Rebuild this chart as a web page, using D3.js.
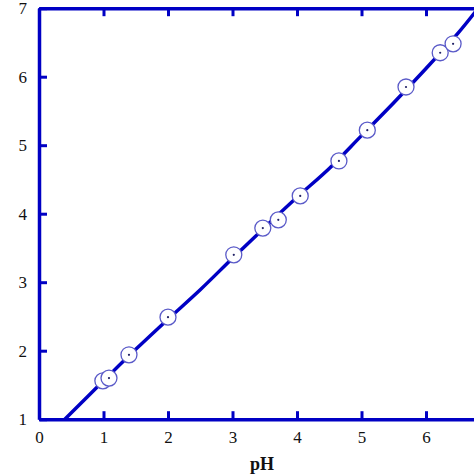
<!DOCTYPE html>
<html>
<head>
<meta charset="utf-8">
<script src="https://cdn.jsdelivr.net/npm/d3@7"></script>
<style>
body { margin: 0; background: #fff; }
svg { display: block; }
text { font-family: "Times New Roman", "Liberation Serif", Times, serif; }
.axis text { font-size: 17px; fill: #111; }
</style>
</head>
<body>
<div id="chart"></div>
<script>
// measured points
var phObs = [0.99, 1.085, 1.395, 2.0, 3.02, 3.47, 3.71, 4.05, 4.65, 5.09, 5.69, 6.22, 6.42];
var yObs  = [1.56, 1.60, 1.94, 2.49, 3.40, 3.79, 3.91, 4.26, 4.77, 5.22, 5.85, 6.35, 6.48];

// fitted curve
var phFit = [0.4, 1.0, 1.5, 2.0, 2.5, 3.0, 3.5, 4.0, 4.5, 5.0, 5.5, 6.0, 6.5, 6.8];
var yFit  = [1.0, 1.56, 2.02, 2.46, 2.89, 3.35, 3.8, 4.24, 4.66, 5.14, 5.62, 6.12, 6.64, 6.99];

var xTicks = [0, 1, 2, 3, 4, 5, 6];
var yTicks = [1, 2, 3, 4, 5, 6, 7];

var blue = "#0000c4";

//Define Margin
var W = 474, H = 474;
var margin = {left: 39, top: 8.2};
var unitX = 64.5, unitY = 68.5;

var svg = d3.select("div#chart")
    .append("svg")
    .attr("width", W)
    .attr("height", H);

//Define Scales
var xScale = d3.scaleLinear()
    .domain([0, 7])
    .range([margin.left, margin.left + 7 * unitX]);

var yScale = d3.scaleLinear()
    .domain([1, 7])
    .range([margin.top + 6 * unitY, margin.top]);

var x0 = xScale(0), y0 = yScale(1), yTop = yScale(7);

//Define Axis
var xAxis = d3.axisBottom(xScale).tickValues(xTicks).tickFormat(d3.format("d"))
    .tickSizeInner(-8).tickSizeOuter(0).tickPadding(12);
var xAxisTop = d3.axisTop(xScale).tickValues(xTicks).tickFormat("")
    .tickSizeInner(-8).tickSizeOuter(0);
var yAxis = d3.axisLeft(yScale).tickValues(yTicks).tickFormat(d3.format("d"))
    .tickSizeInner(-8).tickSizeOuter(0).tickPadding(12);

function styleAxis(g) {
    g.attr("font-family", null);
    g.select(".domain").attr("stroke", blue).attr("stroke-width", 3.5);
    g.selectAll(".tick line").attr("stroke", blue).attr("stroke-width", 3);
}

// fitted line
var line = d3.line()
    .x(function(d, i) { return xScale(phFit[i]); })
    .y(function(d, i) { return yScale(yFit[i]); })
    .curve(d3.curveCatmullRom);

svg.append("path")
    .datum(yFit)
    .attr("d", line)
    .attr("fill", "none")
    .attr("stroke", blue)
    .attr("stroke-width", 3.5);

// axes
svg.append("g").attr("class", "x axis")
    .attr("transform", "translate(0," + y0 + ")")
    .call(xAxis).call(styleAxis);

svg.append("g").attr("class", "x axis top")
    .attr("transform", "translate(0," + yTop + ")")
    .call(xAxisTop).call(styleAxis);

svg.append("g").attr("class", "y axis")
    .attr("transform", "translate(" + x0 + ",0)")
    .call(yAxis).call(styleAxis);

svg.selectAll(".tick text").attr("font-size", null);

// observed points
var pts = svg.append("g").selectAll("g.pt")
    .data(yObs)
    .enter().append("g")
    .attr("class", "pt")
    .attr("transform", function(d, i) { return "translate(" + xScale(phObs[i]) + "," + yScale(d) + ")"; });

pts.append("circle")
    .attr("r", 8)
    .attr("fill", "#fff")
    .attr("stroke", "#5a5ac8")
    .attr("stroke-width", 1.3);

pts.append("circle")
    .attr("r", 1.1)
    .attr("fill", "#222266");

// axis title
svg.append("text")
    .attr("x", 262)
    .attr("y", 470)
    .attr("text-anchor", "middle")
    .attr("font-weight", "bold")
    .attr("font-size", "18px")
    .attr("fill", "#111")
    .text("pH");
</script>
</body>
</html>
